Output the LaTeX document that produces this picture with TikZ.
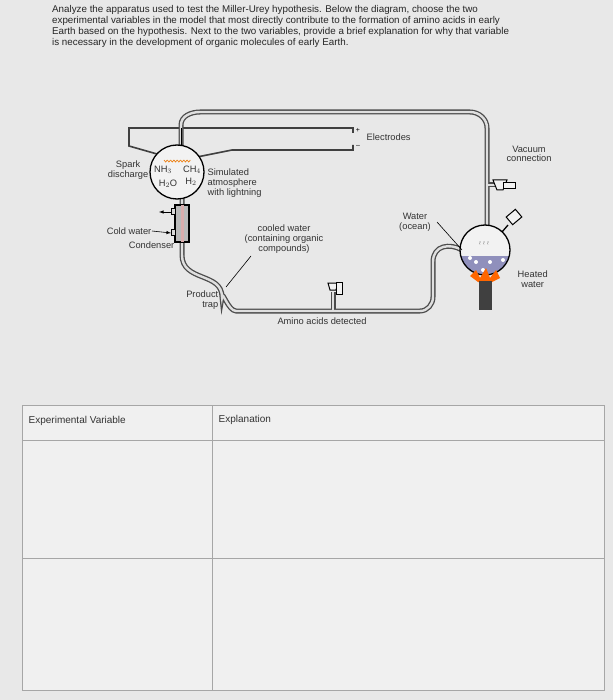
\documentclass[tikz,border=0pt]{standalone}
\usepackage{fontspec}
\setmainfont{Liberation Sans}
\begin{document}
\begin{tikzpicture}[x=1pt,y=-1pt,
  lbl/.style={font=\fontsize{9.3}{9.6}\selectfont,text=black!80,align=center,inner sep=0.5pt},
  tube/.style={line width=5pt,draw=black!70},
  tubein/.style={line width=2.4pt,draw=gray!25},
  wire/.style={line width=1.6pt,draw=black!75}]
\fill[gray!18] (0,0) rectangle (613,700);
\useasboundingbox (0,0) rectangle (613,700);
\node[anchor=north west,align=left,font=\fontsize{9.8}{11}\selectfont,text=black!85,inner sep=0] (q) at (52,5)
 {Analyze the apparatus used to test the Miller-Urey hypothesis. Below the diagram, choose the two\\
  experimental variables in the model that most directly contribute to the formation of amino acids in early\\
  Earth based on the hypothesis. Next to the two variables, provide a brief explanation for why that variable\\
  is necessary in the development of organic molecules of early Earth.};
% electrodes wires
\draw[wire] (178,160) -- (129,146) -- (129,128) -- (353,128) -- (353,133);
\draw[wire] (192,158) -- (232,150) -- (353,150) -- (353,145);
\node[font=\scriptsize] (pl) at (358,130) {+};
\node[font=\scriptsize] (mi) at (358,146) {--};
\node[lbl,anchor=west] (el) at (366,137) {Electrodes};
% tubes
\coordinate (t1) at (181,148);
\coordinate (t2) at (487,226);
\foreach \s in {tube,tubein}{
 \draw[\s] (t1) -- (181,125) to[out=90,in=180] (200,112) -- (470,112) to[out=0,in=90] (487,128) -- (t2);
 \draw[\s] (182,198) -- (182,255) .. controls (182,282) and (222,272) .. (222,297) to[out=90,in=180] (236,311) -- (420,311) to[out=0,in=-90] (433,297) -- (433,262) .. controls (433,245) and (450,243) .. (462,250);
 \draw[\s] (333,311) -- (333,292);
 \draw[\s] (487,185) -- (503,185);
}
\draw[-{latex},line width=0.8pt] (181,128) -- (181,150);
% left flask
\draw[line width=1.3pt,fill=gray!10] (177,172) circle (27);
\foreach \i in {0,...,7}{\draw[orange!70!brown,line width=0.7pt] (164+\i*3.3,160) -- ++(1.65,2) -- ++(1.65,-2);}
\node[lbl] (nh) at (163,170) {NH$_3$};
\node[lbl] (ch) at (192,170) {CH$_4$};
\node[lbl] (ho) at (168,184) {H$_2$O};
\node[lbl] (hh) at (191,182) {H$_2$};
% condenser
\draw[line width=1.3pt,fill=gray!55] (175,205) rectangle (189,242);
\draw[line width=1pt,fill=gray!30] (171,209) rectangle (175,215);
\draw[line width=1pt,fill=gray!30] (171,230) rectangle (175,236);
\draw[line width=3pt,draw=pink!70!gray] (182,205) -- (182,242);
\draw[-{latex},line width=0.6pt] (171,212) -- (159,212);
\node[lbl,anchor=east] (cw) at (152,231) {Cold water};
\draw[-{latex},line width=0.6pt] (cw.east) -- (171,233);
\node[lbl,anchor=east] (cd) at (175,245) {Condenser};
\node[lbl,anchor=east,align=center] (sp) at (149,170) {Spark\\discharge};
\node[lbl,anchor=west,align=left] (sa) at (207,183) {Simulated\\atmosphere\\with lightning};
\node[lbl] (cwt) at (284,239) {cooled water\\(containing organic\\compounds)};
\draw[line width=0.6pt] (251,256) -- (226,287);
\node[lbl,anchor=east,align=right] (pt) at (219,300) {Product\\trap};
\node[lbl] (aa) at (322,321) {Amino acids detected};
% stopcock
\draw[line width=1pt,fill=gray!10] (328,283) -- (338,283) -- (336,290) -- (330,290) -- cycle;
\draw[line width=1pt,fill=gray!10] (336,282) rectangle (342,294);
% right flask
\begin{scope}
\clip (485,250) circle (25);
\fill[gray!10] (485,250) circle (25);
\fill[blue!25!gray!70] (455,256) rectangle (515,280);
\foreach \p in {(476,262),(490,262),(503,260),(483,270),(470,258)}{\fill[white] \p circle (2);}
\end{scope}
\draw[line width=1.3pt] (485,250) circle (25);
\node[font=\tiny,text=black!70] (zz) at (484,243) {$\wr\wr\wr$};
\fill[orange!80!red] (470,276) -- (476,270) -- (480,278) -- (486,268) -- (490,278) -- (496,270) -- (500,278) -- (492,282) -- (478,282) -- cycle;
\fill[black!75] (479,281) rectangle (492,310);
\draw[line width=1pt,fill=gray!10] (493,180) -- (507,180) -- (503,190) -- (497,190) -- cycle;
\draw[line width=1pt,fill=gray!10] (503,183) rectangle (515,189);
\draw[line width=1.3pt] (502,232) -- (508,225);
\draw[line width=1pt,fill=gray!10,rotate around={40:(514,217)}] (508,212) rectangle (520,222);
\node[lbl] (vc) at (529,154) {Vacuum\\connection};
\node[lbl] (wo) at (415,222) {Water\\(ocean)};
\draw[line width=0.6pt] (437,222) -- (462,250);
\node[lbl,anchor=west] (hw) at (517,279) {Heated\\water};
% table
\draw[gray!70,line width=0.8pt,fill=gray!12] (22,405) rectangle (604,690);
\draw[gray!70,line width=0.8pt] (212,405) -- (212,690);
\draw[gray!70,line width=0.8pt] (22,440) -- (604,440);
\draw[gray!70,line width=0.8pt] (22,558) -- (604,558);
\node[lbl,anchor=west,font=\fontsize{10}{11}\selectfont] (ev) at (28,421) {Experimental Variable};
\node[lbl,anchor=west,font=\fontsize{10}{11}\selectfont] (ex) at (218,420) {Explanation};
\end{tikzpicture}
\end{document}
